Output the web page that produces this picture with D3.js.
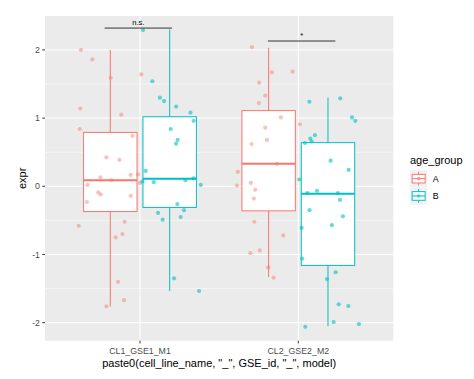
<!DOCTYPE html>
<html>
<head>
<meta charset="utf-8">
<script src="https://cdn.jsdelivr.net/npm/d3@7"></script>
<style>
  body { margin: 0; background: #fff; }
  svg { display: block; font-family: "Liberation Sans", Arial, sans-serif; }
</style>
</head>
<body>
<div id="chart"></div>
<script>
//categories and groups
const categories = ["CL1_GSE1_M1", "CL2_GSE2_M2"];
const groups = ["A", "B"];
const yTicks = [-2, -1, 0, 1, 2];
const yMinor = [-1.5, -0.5, 0.5, 1.5];

//box stats per category: [lower whisker, q1, median, q3, upper whisker]
const boxA = [
  [-1.765, -0.37, 0.088, 0.79, 2.0],
  [-1.33, -0.36, 0.33, 1.11, 2.03],
];
const boxB = [
  [-1.535, -0.31, 0.11, 1.02, 2.3],
  [-2.05, -1.16, -0.11, 0.64, 1.3],
];

//points: expr values and their jitter (in category units)
const exprA1 = [2.0, 1.86, 1.64, 1.59, 1.14, 1.05, 0.84, 0.74, 0.425, 0.386, 0.176, 0.166, 0.13, 0.092, 0.05, 0.02, -0.09, -0.12, -0.14, -0.23, -0.52, -0.58, -0.7, -0.75, -1.4, -1.67, -1.76];
const jitA1 = [-0.373, -0.301, 0.009, -0.185, -0.377, -0.118, -0.381, -0.048, -0.212, -0.13, -0.013, -0.059, -0.25, -0.181, 0.0, -0.331, -0.263, -0.248, -0.059, -0.335, -0.097, -0.387, -0.111, -0.154, -0.139, -0.101, -0.212];
const exprB1 = [2.29, 1.54, 1.3, 1.25, 1.17, 1.08, 0.96, 0.84, 0.68, 0.625, 0.225, 0.117, 0.09, 0.07, 0.06, 0.02, -0.26, -0.35, -0.39, -0.45, -0.49, -1.35, -1.535];
const jitB1 = [0.019, 0.078, 0.126, 0.152, 0.228, 0.319, 0.339, 0.194, 0.238, 0.228, 0.036, 0.338, 0.287, 0.015, 0.087, 0.384, 0.236, 0.278, 0.114, 0.257, 0.143, 0.215, 0.373];
const exprA2 = [2.04, 1.68, 1.67, 1.52, 1.33, 1.22, 1.01, 0.91, 0.86, 0.68, 0.62, 0.33, 0.21, 0.05, 0.01, -0.05, -0.18, -0.52, -0.72, -0.94, -0.98, -1.19, -1.34];
const jitA2 = [-0.293, -0.036, -0.167, -0.247, -0.209, -0.249, -0.11, 0.01, -0.209, -0.198, -0.295, -0.135, -0.382, -0.3, -0.388, -0.272, -0.281, -0.278, -0.095, -0.243, -0.303, -0.19, -0.156];
const exprB2 = [1.29, 1.24, 1.01, 0.96, 0.75, 0.7, 0.66, 0.635, 0.375, 0.24, 0.1, -0.065, -0.1, -0.1, -0.2, -0.35, -0.44, -0.57, -0.61, -1.06, -1.26, -1.36, -1.73, -1.755, -1.99, -2.02, -2.06];
const jitB2 = [0.265, 0.07, 0.339, 0.36, 0.105, 0.076, 0.084, 0.042, 0.204, 0.318, 0.006, 0.118, 0.057, 0.25, 0.263, 0.071, 0.282, 0.212, 0.021, 0.025, 0.236, 0.181, 0.255, 0.316, 0.223, 0.383, 0.044];

//significance brackets
const signifLabels = ["n.s.", "*"];
const signifY = [2.32, 2.13];
const signifSpan = [
  [-0.223, 0.202],
  [-0.192, 0.234],
];

//colors
const color = d3.scaleOrdinal().domain(groups).range(["#F8766D", "#00BFC4"]);

//size
const width = 474;
const height = 379;
const panel = { left: 45, right: 393.3, top: 16, bottom: 340.7 };

//scales
const xScale = d3
  .scalePoint()
  .domain(categories)
  .range([panel.left, panel.right])
  .padding(0.6);
const unit = xScale.step();
const yScale = d3
  .scaleLinear()
  .domain([-2.264, 2.497])
  .range([panel.bottom, panel.top]);

//dodge
const dodge = { A: -0.1875, B: 0.1875 };
const boxWidth = 0.3375;

const svg = d3
  .select("#chart")
  .append("svg")
  .attr("width", width)
  .attr("height", height);

//panel background
svg
  .append("rect")
  .attr("x", panel.left)
  .attr("y", panel.top)
  .attr("width", panel.right - panel.left)
  .attr("height", panel.bottom - panel.top)
  .attr("fill", "#EBEBEB");

//grid
const grid = svg.append("g");
grid
  .selectAll("line.minor")
  .data(yMinor)
  .join("line")
  .attr("x1", panel.left)
  .attr("x2", panel.right)
  .attr("y1", (d) => yScale(d))
  .attr("y2", (d) => yScale(d))
  .attr("stroke", "#fff")
  .attr("stroke-width", 0.5);
grid
  .selectAll("line.major")
  .data(yTicks)
  .join("line")
  .attr("x1", panel.left)
  .attr("x2", panel.right)
  .attr("y1", (d) => yScale(d))
  .attr("y2", (d) => yScale(d))
  .attr("stroke", "#fff")
  .attr("stroke-width", 1);
grid
  .selectAll("line.xmajor")
  .data(categories)
  .join("line")
  .attr("x1", (d) => xScale(d))
  .attr("x2", (d) => xScale(d))
  .attr("y1", panel.top)
  .attr("y2", panel.bottom)
  .attr("stroke", "#fff")
  .attr("stroke-width", 1);

//boxplot data
const boxes = [];
categories.forEach((c, i) => {
  boxes.push({ cat: c, group: "A", s: boxA[i] });
  boxes.push({ cat: c, group: "B", s: boxB[i] });
});

const boxG = svg
  .selectAll("g.box")
  .data(boxes)
  .join("g")
  .attr("class", "box")
  .attr("stroke", (d) => color(d.group))
  .attr("fill", "none");

boxG.each(function (d) {
  const g = d3.select(this);
  const cx = xScale(d.cat) + dodge[d.group] * unit;
  const half = (boxWidth * unit) / 2;
  //whiskers
  g.append("line")
    .attr("x1", cx)
    .attr("x2", cx)
    .attr("y1", yScale(d.s[0]))
    .attr("y2", yScale(d.s[1]))
    .attr("stroke-width", 1);
  g.append("line")
    .attr("x1", cx)
    .attr("x2", cx)
    .attr("y1", yScale(d.s[3]))
    .attr("y2", yScale(d.s[4]))
    .attr("stroke-width", 1);
  //box
  g.append("rect")
    .attr("x", cx - half)
    .attr("y", yScale(d.s[3]))
    .attr("width", half * 2)
    .attr("height", yScale(d.s[1]) - yScale(d.s[3]))
    .attr("fill", "#fff")
    .attr("stroke-width", 1);
  //median
  g.append("line")
    .attr("x1", cx - half)
    .attr("x2", cx + half)
    .attr("y1", yScale(d.s[2]))
    .attr("y2", yScale(d.s[2]))
    .attr("stroke-width", 2);
});

//points
const pointSets = [
  { cat: categories[0], group: "A", v: exprA1, j: jitA1 },
  { cat: categories[0], group: "B", v: exprB1, j: jitB1 },
  { cat: categories[1], group: "A", v: exprA2, j: jitA2 },
  { cat: categories[1], group: "B", v: exprB2, j: jitB2 },
];
const points = pointSets.flatMap((p) =>
  p.v.map((v, i) => ({ cat: p.cat, group: p.group, v, j: p.j[i] }))
);

svg
  .append("g")
  .selectAll("circle")
  .data(points)
  .join("circle")
  .attr("cx", (d) => xScale(d.cat) + d.j * unit)
  .attr("cy", (d) => yScale(d.v))
  .attr("r", 2.1)
  .attr("fill", (d) => color(d.group))
  .attr("fill-opacity", (d) => (d.group == "A" ? 0.45 : 0.6));

//significance brackets
const sig = svg
  .append("g")
  .selectAll("g")
  .data(categories)
  .join("g");
sig
  .append("line")
  .attr("x1", (d, i) => xScale(d) + signifSpan[i][0] * unit)
  .attr("x2", (d, i) => xScale(d) + signifSpan[i][1] * unit)
  .attr("y1", (d, i) => yScale(signifY[i]))
  .attr("y2", (d, i) => yScale(signifY[i]))
  .attr("stroke", "#333")
  .attr("stroke-width", 1);
sig
  .append("text")
  .attr("x", (d, i) => xScale(d) + ((signifSpan[i][0] + signifSpan[i][1]) / 2) * unit)
  .attr("y", (d, i) => yScale(signifY[i]) - 3)
  .attr("text-anchor", "middle")
  .attr("font-size", 7.5)
  .attr("fill", "#000")
  .text((d, i) => signifLabels[i]);

//y axis
const yAxis = svg.append("g");
yAxis
  .selectAll("line")
  .data(yTicks)
  .join("line")
  .attr("x1", panel.left - 2.7)
  .attr("x2", panel.left)
  .attr("y1", (d) => yScale(d))
  .attr("y2", (d) => yScale(d))
  .attr("stroke", "#333")
  .attr("stroke-width", 1);
yAxis
  .selectAll("text")
  .data(yTicks)
  .join("text")
  .attr("x", panel.left - 5)
  .attr("y", (d) => yScale(d))
  .attr("dy", "0.35em")
  .attr("text-anchor", "end")
  .attr("font-size", 8.8)
  .attr("fill", "#4D4D4D")
  .text((d) => d);

//x axis
const xAxis = svg.append("g");
xAxis
  .selectAll("line")
  .data(categories)
  .join("line")
  .attr("x1", (d) => xScale(d))
  .attr("x2", (d) => xScale(d))
  .attr("y1", panel.bottom)
  .attr("y2", panel.bottom + 2.7)
  .attr("stroke", "#333")
  .attr("stroke-width", 1);
xAxis
  .selectAll("text")
  .data(categories)
  .join("text")
  .attr("x", (d) => xScale(d))
  .attr("y", panel.bottom + 13)
  .attr("text-anchor", "middle")
  .attr("font-size", 8.8)
  .attr("fill", "#4D4D4D")
  .text((d) => d);

//axis titles
svg
  .append("text")
  .attr("x", (panel.left + panel.right) / 2)
  .attr("y", panel.bottom + 26)
  .attr("text-anchor", "middle")
  .attr("font-size", 11)
  .attr("fill", "#000")
  .text('paste0(cell_line_name, "_", GSE_id, "_", model)');
svg
  .append("text")
  .attr("transform", `translate(26,${(panel.top + panel.bottom) / 2}) rotate(-90)`)
  .attr("text-anchor", "middle")
  .attr("font-size", 11)
  .attr("fill", "#000")
  .text("expr");

//legend
const legend = svg.append("g").attr("transform", "translate(410,0)");
legend
  .append("text")
  .attr("x", 0)
  .attr("y", 164)
  .attr("font-size", 11)
  .attr("fill", "#000")
  .text("age_group");

const keySize = 17.3;
const key = legend
  .selectAll("g.key")
  .data(groups)
  .join("g")
  .attr("class", "key")
  .attr("transform", (d, i) => `translate(0,${170 + i * keySize})`);
key
  .append("rect")
  .attr("width", keySize)
  .attr("height", keySize)
  .attr("fill", "#F2F2F2");
key
  .append("line")
  .attr("x1", keySize / 2)
  .attr("x2", keySize / 2)
  .attr("y1", keySize * 0.1)
  .attr("y2", keySize * 0.9)
  .attr("stroke", (d) => color(d));
key
  .append("rect")
  .attr("x", keySize * 0.125)
  .attr("y", keySize * 0.25)
  .attr("width", keySize * 0.75)
  .attr("height", keySize * 0.5)
  .attr("fill", "#fff")
  .attr("stroke", (d) => color(d));
key
  .append("line")
  .attr("x1", keySize * 0.125)
  .attr("x2", keySize * 0.875)
  .attr("y1", keySize / 2)
  .attr("y2", keySize / 2)
  .attr("stroke", (d) => color(d))
  .attr("stroke-width", 1);
key
  .append("circle")
  .attr("cx", keySize / 2)
  .attr("cy", keySize / 2)
  .attr("r", 1.8)
  .attr("fill", (d) => color(d))
  .attr("fill-opacity", 0.6);
key
  .append("text")
  .attr("x", keySize + 5.5)
  .attr("y", keySize / 2)
  .attr("dy", "0.35em")
  .attr("font-size", 8.8)
  .attr("fill", "#000")
  .text((d) => d);
</script>
</body>
</html>
